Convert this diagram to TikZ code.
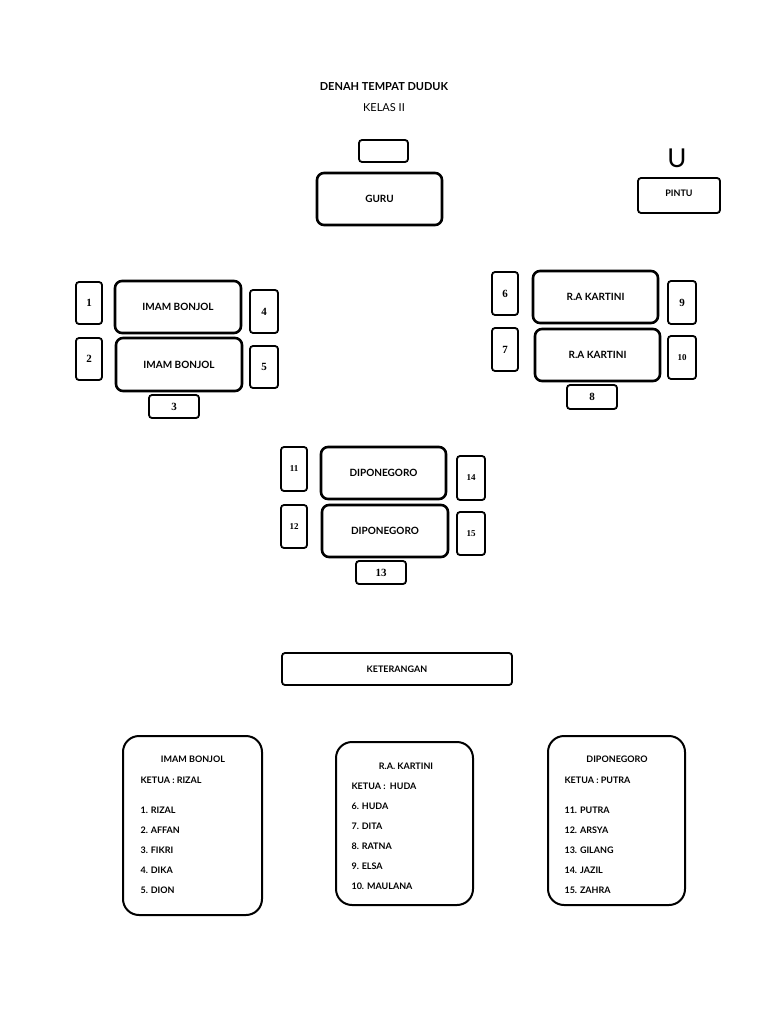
\documentclass[tikz,border=0pt]{standalone}
\usepackage{fontspec}
\setmainfont{Lato}
\newfontfamily\numf{Liberation Serif}
\begin{document}
\begin{tikzpicture}[x=1pt,y=-1pt,
  tbl/.style={draw,line width=2.6pt,rounded corners=7pt,font=\bfseries\fontsize{10}{12}\selectfont},
  seat/.style={draw,line width=1.8pt,rounded corners=3pt,font=\numf\bfseries\fontsize{11}{12}\selectfont},
  leg/.style={draw,line width=2pt,rounded corners=16pt},
  lt/.style={anchor=west,font=\bfseries\fontsize{9}{11}\selectfont}]
\useasboundingbox (0,0) rectangle (768,1024);
\newcommand\bx[6]{\draw[#1] (#3,#4) rectangle (#5,#6); \node[font=\csname#2\endcsname] at ({(#3+#5)/2},{(#4+#6)/2}) {};}
\newcommand\R[7]{\draw[#1] (#3,#4) rectangle (#5,#6) node[midway,name=#2,#1,draw=none] {#7};}
\node[font=\bfseries\fontsize{11}{13}\selectfont] (t1) at (384,87) {DENAH TEMPAT DUDUK};
\node[font=\fontsize{11}{13}\selectfont] (t2) at (384,108) {KELAS II};
\R{seat}{ch}{359}{140}{408}{162}{}
\R{tbl}{guru}{317}{173}{442}{225}{GURU}
\node[font=\fontsize{26}{26}\selectfont] (u) at (677,158) {U};
\draw[seat] (638,178) rectangle (720,213);
\node[font=\bfseries\fontsize{9}{11}\selectfont] (pintu) at (679,193) {PINTU};
% Imam Bonjol
\R{seat}{s1}{76}{282}{102}{324}{1}
\R{tbl}{ib1}{115}{281}{241}{333}{IMAM BONJOL}
\R{seat}{s4}{250}{290}{278}{333}{4}
\R{seat}{s2}{76}{338}{102}{380}{2}
\R{tbl}{ib2}{116}{338}{242}{391}{IMAM BONJOL}
\R{seat}{s5}{250}{346}{278}{388}{5}
\R{seat}{s3}{149}{395}{199}{418}{3}
% Kartini
\R{seat}{s6}{492}{272}{518}{315}{6}
\R{tbl}{rk1}{533}{271}{658}{323}{R.A KARTINI}
\R{seat}{s9}{668}{281}{696}{324}{9}
\R{seat}{s7}{492}{328}{518}{371}{7}
\R{tbl}{rk2}{535}{329}{660}{381}{R.A KARTINI}
\R{seat}{s10}{668}{336}{696}{379}{\fontsize{9}{10}\selectfont 10}
\R{seat}{s8}{567}{385}{617}{409}{8}
% Diponegoro
\R{seat}{s11}{281}{447}{307}{491}{\fontsize{9}{10}\selectfont 11}
\R{tbl}{d1}{321}{447}{446}{499}{DIPONEGORO}
\R{seat}{s14}{457}{456}{485}{500}{\fontsize{9}{10}\selectfont 14}
\R{seat}{s12}{281}{505}{307}{548}{\fontsize{9}{10}\selectfont 12}
\R{tbl}{d2}{322}{505}{448}{557}{DIPONEGORO}
\R{seat}{s15}{457}{512}{485}{555}{\fontsize{9}{10}\selectfont 15}
\R{seat}{s13}{356}{561}{406}{584}{13}
% keterangan
\draw[line width=1.8pt,rounded corners=3pt] (282,653) rectangle (512,685) node[midway,font=\bfseries\fontsize{9}{11}\selectfont] (ket) {KETERANGAN};
% legends
\draw[leg] (123,736) rectangle (262,915);
\node[font=\bfseries\fontsize{9}{11}\selectfont] (lh1) at (193,759) {IMAM BONJOL};
\node[lt] (a0) at (137,780) {KETUA : RIZAL};
\node[lt] (a1) at (137,810) {1. RIZAL};
\node[lt] (a2) at (137,830) {2. AFFAN};
\node[lt] (a3) at (137,850) {3. FIKRI};
\node[lt] (a4) at (137,870) {4. DIKA};
\node[lt] (a5) at (137,890) {5. DION};
\draw[leg] (336,742) rectangle (473,905);
\node[font=\bfseries\fontsize{9}{11}\selectfont] (lh2) at (406,766) {R.A. KARTINI};
\node[lt] (b0) at (348,786) {KETUA : \ HUDA};
\node[lt] (b1) at (348,806) {6. HUDA};
\node[lt] (b2) at (348,826) {7. DITA};
\node[lt] (b3) at (348,846) {8. RATNA};
\node[lt] (b4) at (348,866) {9. ELSA};
\node[lt] (b5) at (348,886) {10. MAULANA};
\draw[leg] (548,736) rectangle (685,905);
\node[font=\bfseries\fontsize{9}{11}\selectfont] (lh3) at (617,759) {DIPONEGORO};
\node[lt] (c0) at (561,780) {KETUA : PUTRA};
\node[lt] (c1) at (561,810) {11. PUTRA};
\node[lt] (c2) at (561,830) {12. ARSYA};
\node[lt] (c3) at (561,850) {13. GILANG};
\node[lt] (c4) at (561,870) {14. JAZIL};
\node[lt] (c5) at (561,890) {15. ZAHRA};
\end{tikzpicture}
\end{document}
